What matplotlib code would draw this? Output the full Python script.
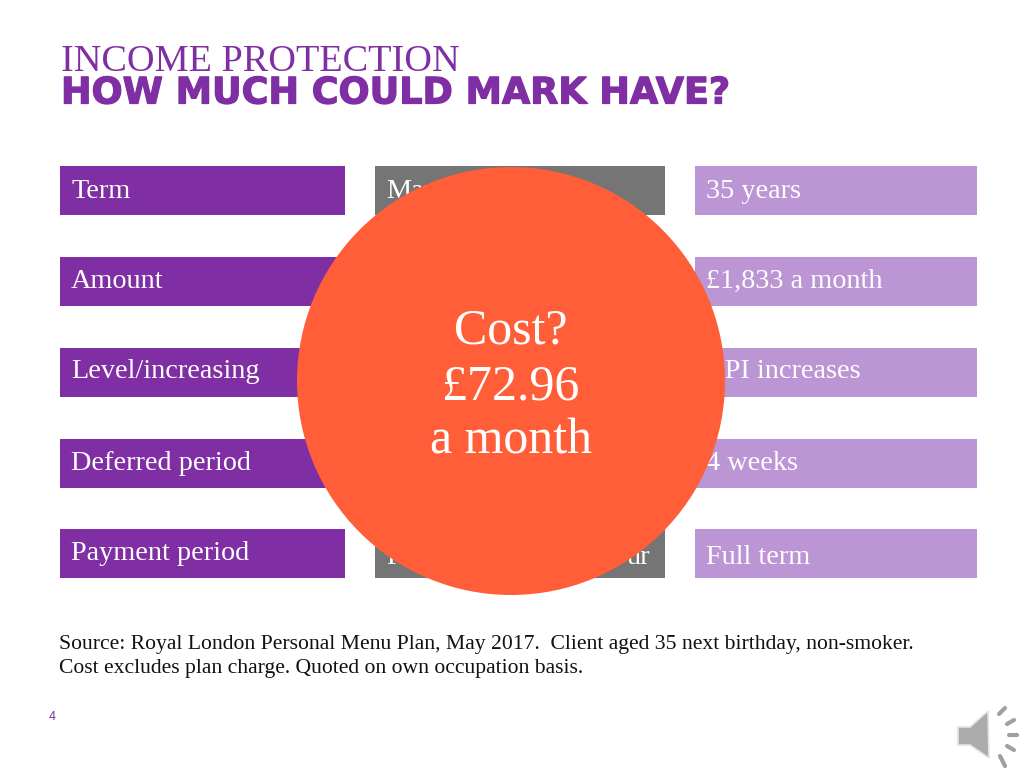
import matplotlib
matplotlib.use("Agg")
import matplotlib.pyplot as plt
import matplotlib.patheffects as pe
from matplotlib.patches import Rectangle, Circle, Polygon

PURPLE = "#7F2FA3"
LILAC = "#BC95D4"
GREY = "#757575"
ORANGE = "#FF5E38"
SERIF = "Liberation Serif"

left_labels = ["Term", "Amount", "Level/increasing", "Deferred period", "Payment period"]
right_labels = ["35 years", "£1,833 a month", "CPI increases", "4 weeks", "Full term"]
mid_rows = [("May", ""), ("", ""), ("", ""), ("", ""), ("P", "ur")]
row_tops = [166, 257, 348, 439, 529]
left_text_y = [191, 281, 372, 463, 553]
right_text_y = [191, 281, 372, 463, 557]
circle_lines = ["Cost?", "£72.96", "a month"]
circle_line_y = [331, 387, 441]
source_lines = ["Source: Royal London Personal Menu Plan, May 2017.  Client aged 35 next birthday, non-smoker.",
                "Cost excludes plan charge. Quoted on own occupation basis."]

fig = plt.figure(figsize=(10.24, 7.68), dpi=100, facecolor="white")
ax = fig.add_axes([0, 0, 1, 1])
ax.set_xlim(0, 1024)
ax.set_ylim(768, 0)
ax.axis("off")

ax.text(61, 62, "INCOME PROTECTION", family=SERIF, fontsize=27.5, color=PURPLE, va="center", ha="left")
ax.text(61, 93, "HOW MUCH COULD MARK HAVE?", family="DejaVu Sans", weight="bold",
        fontsize=26.3, color=PURPLE, va="center", ha="left",
        path_effects=[pe.withStroke(linewidth=0.9, foreground=PURPLE)])

H = 49
for i, top in enumerate(row_tops):
    ax.add_patch(Rectangle((60, top), 285, H, fc=PURPLE, ec="none", zorder=1))
    ax.add_patch(Rectangle((375, top), 290, H, fc=GREY, ec="none", zorder=1))
    ax.add_patch(Rectangle((695, top), 282, H, fc=LILAC, ec="none", zorder=1))
    ax.text(71, left_text_y[i], left_labels[i], family=SERIF, fontsize=20.3, color="white",
            va="center", ha="left", zorder=2)
    ax.text(706, right_text_y[i], right_labels[i], family=SERIF, fontsize=20.3, color="white",
            va="center", ha="left", zorder=2)
    ml, mr = mid_rows[i]
    if ml:
        ax.text(386, left_text_y[i] + (4 if i == 4 else 0), ml, family=SERIF, fontsize=20.3, color="white",
                va="center", ha="left", zorder=2)
    if mr:
        ax.text(650, left_text_y[i] + 4, mr, family=SERIF, fontsize=20.3, color="white",
                va="center", ha="right", zorder=2)

ax.add_patch(Circle((511, 381), 214, fc=ORANGE, ec="none", zorder=3))
for s, y in zip(circle_lines, circle_line_y):
    ax.text(511, y, s, family=SERIF, fontsize=36, color="white", va="center", ha="center", zorder=4)

for s, y in zip(source_lines, [644, 668]):
    ax.text(59, y, s, family=SERIF, fontsize=15.6, color="#111111", va="center", ha="left")
ax.text(49, 717, "4", family="Liberation Sans", fontsize=9, color=PURPLE, va="center", ha="left")

# speaker icon
ax.add_patch(Polygon([(958, 727), (970, 727), (988, 711), (989, 758), (970, 745), (958, 745)],
                     closed=True, fc="#ABABAB", ec="#E4E4E4", lw=1.2, zorder=2))
for (x0, y0, x1, y1) in [(999, 714, 1005, 708), (1007, 724, 1014, 720), (1009, 735, 1017, 735),
                         (1007, 746, 1014, 750), (1000, 756, 1005, 766)]:
    ax.plot([x0, x1], [y0, y1], color="#A0A0A0", lw=3, solid_capstyle="round", zorder=2)

fig.savefig("out.png", dpi=100, facecolor="white")
